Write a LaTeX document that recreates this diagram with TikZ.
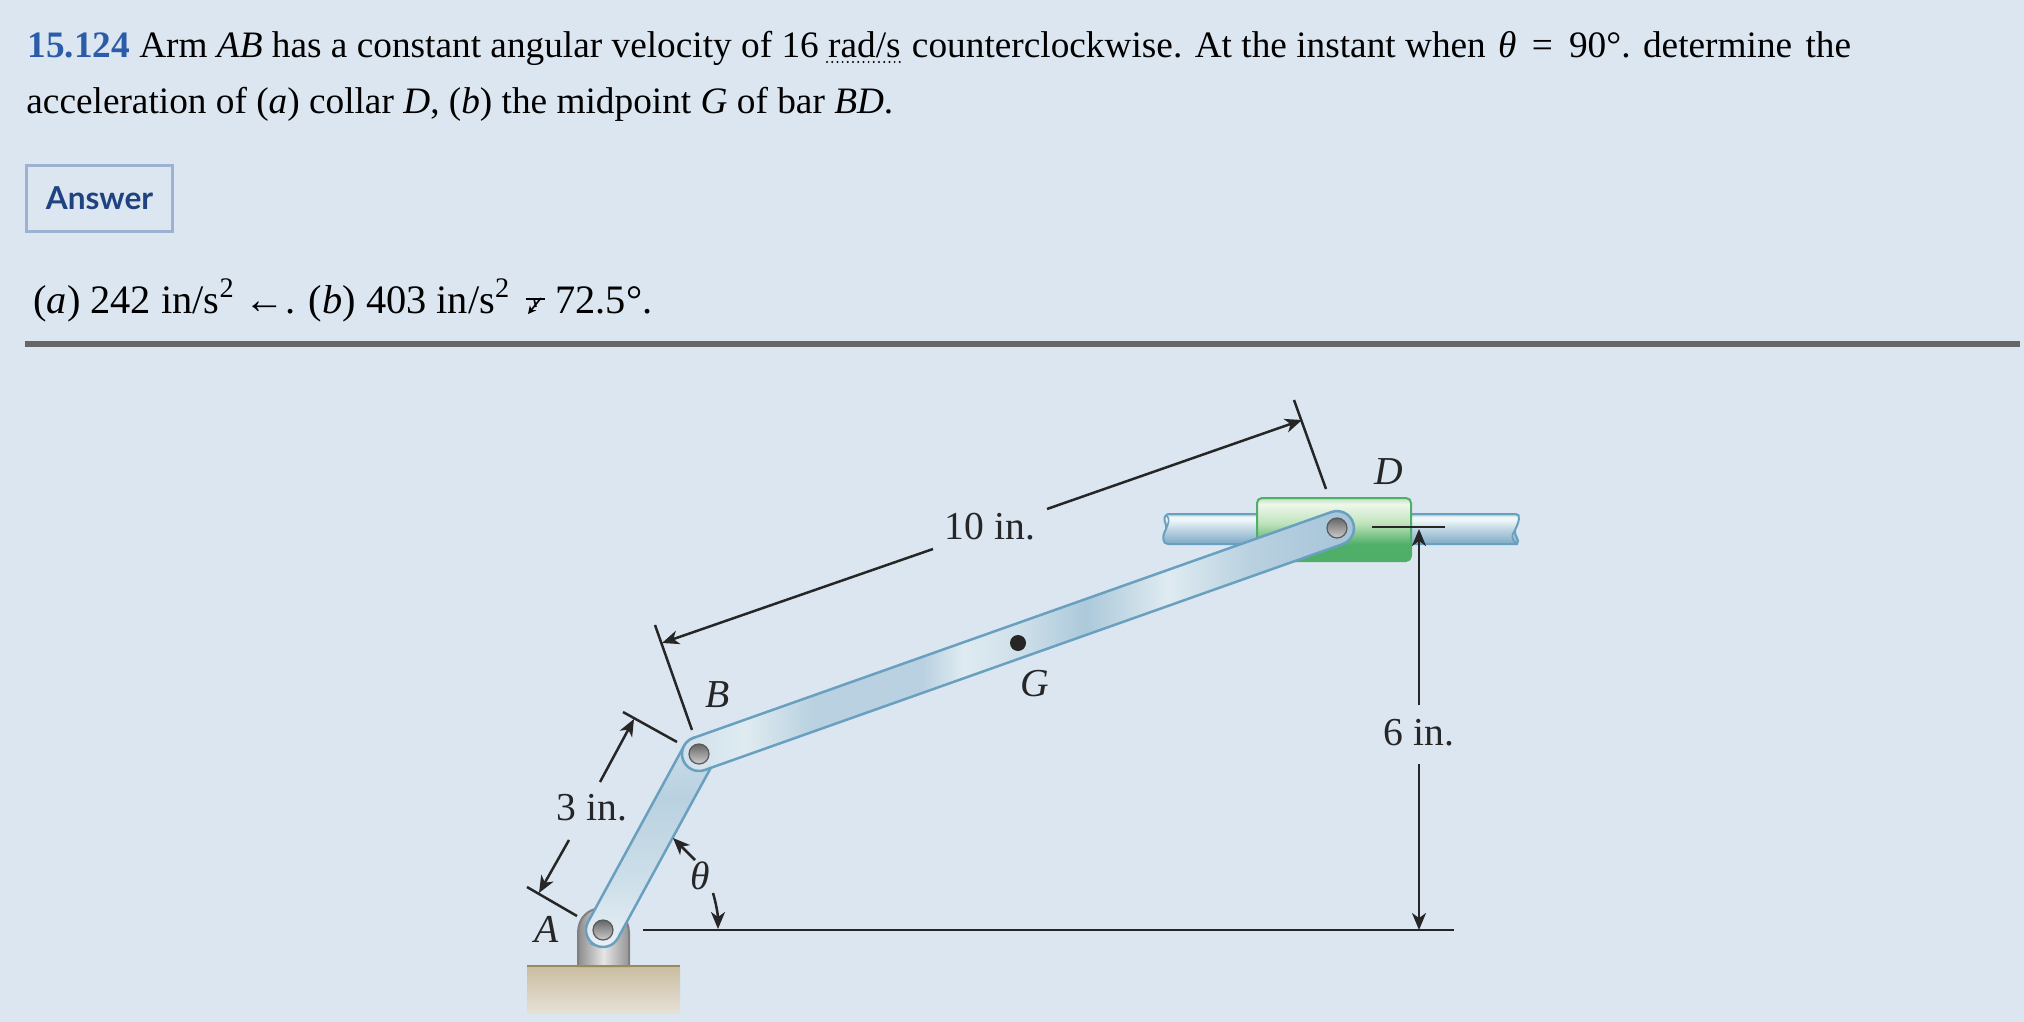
\documentclass[tikz,border=0pt]{standalone}
\usepackage{fontspec}
\setmainfont{Liberation Serif}
\newfontfamily\btnfont{Lato}
\usetikzlibrary{arrows.meta, positioning}

\definecolor{pagebg}{HTML}{DCE6F1}
\definecolor{ink}{HTML}{262626}
\definecolor{numblue}{HTML}{2A5CAA}
\definecolor{btnblue}{HTML}{1F4380}
\definecolor{btnedge}{HTML}{9DB2D2}
\definecolor{rulegray}{HTML}{666666}
\definecolor{baredge}{HTML}{6AA0BF}
\definecolor{bara}{HTML}{CFE0EA}
\definecolor{barb}{HTML}{DFEBF1}
\definecolor{barc}{HTML}{B9D1E0}
\definecolor{bard}{HTML}{ACC9DA}
\definecolor{bare}{HTML}{A5C3D9}
\definecolor{barf}{HTML}{EAF2F6}
\definecolor{rodtop}{HTML}{A9C8DA}
\definecolor{rodlight}{HTML}{EEF6F8}
\definecolor{rodmid}{HTML}{C0D7E3}
\definecolor{rodlow}{HTML}{7FAAC6}
\definecolor{colledge}{HTML}{4FAE68}
\definecolor{collight}{HTML}{EFF7EC}
\definecolor{colmid}{HTML}{BFE3BC}
\definecolor{groundtop}{HTML}{C9BDA0}
\definecolor{groundlow}{HTML}{E6E1D6}
\definecolor{groundedge}{HTML}{9A8B5C}

\pgfdeclarehorizontalshading{barbd}{100bp}{
  color(0bp)=(bara); color(25bp)=(bara); color(30bp)=(barb); color(35bp)=(barc);
  color(43bp)=(barc); color(46bp)=(barb); color(50bp)=(bara); color(55bp)=(bard);
  color(61bp)=(barb); color(67bp)=(barc); color(75bp)=(bare); color(100bp)=(bare)}
\pgfdeclareverticalshading{barab}{100bp}{
  color(0bp)=(barf); color(25bp)=(barf); color(40bp)=(bara); color(60bp)=(barc);
  color(75bp)=(bara); color(100bp)=(bara)}
\pgfdeclareverticalshading{rodshade}{100bp}{
  color(0bp)=(rodlow); color(25bp)=(rodlow); color(50bp)=(rodmid); color(65bp)=(rodlight);
  color(70bp)=(rodlight); color(75bp)=(rodtop); color(100bp)=(rodtop)}
\pgfdeclareverticalshading{collshade}{100bp}{
  color(0bp)=(colledge); color(25bp)=(colledge); color(38bp)=(colledge); color(55bp)=(colmid);
  color(70bp)=(collight); color(75bp)=(colmid); color(100bp)=(colmid)}

\tikzset{
  body/.style={anchor=base west, inner sep=0pt, text=black, font=\fontsize{18.65}{22}\selectfont},
  ans/.style={anchor=base west, inner sep=0pt, text=black, font=\fontsize{20.2}{24}\selectfont},
  dimtext/.style={inner sep=0pt, text=ink, font=\fontsize{19.8}{22}\selectfont},
  dimline/.style={draw=ink, line width=1.25pt},
  dimarrow/.style={dimline, -{Stealth[length=8.5pt, width=7pt, inset=2.5pt]}},
  barshape/.style={draw=baredge, line width=1.25pt, rounded corners=8.5pt},
  pinshape/.style={circle, minimum size=10pt, inner sep=0pt, draw=black!65, line width=.6pt,
    top color=black!60, bottom color=black!20}
}

\begin{document}
\begin{tikzpicture}[x=.5pt, y=-.5pt]
  \fill[pagebg] (0,0) rectangle (2024,1022);
  \useasboundingbox (0,0) rectangle (2024,1022);

  % Text
  \node[body] (prob1) at (27,58) {\textcolor{numblue}{\textbf{15.124}} Arm \textit{AB} has a constant angular velocity of 16 rad/s\kern1pt\ counterclockwise. At the instant when\kern1.5pt\ \textit{θ}\kern3pt\ =\kern3.5pt\ 90°. determine\kern2pt\ the};
  \node[body] (prob2) at (26,113) {acceleration of (\textit{a}) collar \textit{D}, (\textit{b}) the midpoint \textit{G} of bar \textit{BD}.};
  \draw[line width=1.1pt, line cap=round, dash pattern=on 0pt off 2.6pt] (827,62) -- (903,62);
  \node[draw=btnedge, line width=1.8pt, minimum width=73pt, minimum height=33pt, inner sep=0pt,
    text=btnblue, font=\btnfont\bfseries\fontsize{15.8}{18}\selectfont] (answer) at (99.5,198.5) {Answer};
  \node[ans] (result) at (33,313) {(\textit{a}) 242 in/s\textsuperscript{2} ←. (\textit{b}) 403 in/s\textsuperscript{2}};
  \node[ans] (angle) at (555,313) {72.5°.};
  \coordinate (ga) at (526,299);
  \coordinate (gb) at (545,299);
  \coordinate (gc) at (541,298);
  \coordinate (gd) at (528,314);
  \draw[line width=.8pt] (ga) -- (gb);
  \draw[line width=.8pt, -{Stealth[length=4pt, width=4pt]}] (gc) -- (gd);
  \draw[line width=.8pt] (534,299) -- (536,307);
  \fill[rulegray] (25,341) rectangle (2020,347);

  % Ground and support
  \shade[top color=groundtop, bottom color=groundlow] (527,966) rectangle (680,1013);
  \draw[draw=black!50, line width=1pt, left color=black!45, right color=black!42, middle color=black!10]
    (578,966) -- (578,933) .. controls (578,918) and (588,908) .. (603,908)
    .. controls (618,908) and (629,918) .. (629,933) -- (629,966) -- cycle;
  \draw[groundedge, line width=1pt] (527,966) -- (680,966);

  % Rod and collar
  \draw[draw=baredge, line width=1pt, shading=rodshade]
    (1168,514) -- (1516,514) .. controls (1521,514) and (1519,522) .. (1515,530)
    .. controls (1513,535) and (1521,540) .. (1517,544) -- (1168,544)
    .. controls (1162,544) and (1162,536) .. (1166,529)
    .. controls (1168,524) and (1160,518) .. (1168,514) -- cycle;
  \draw[baredge, line width=.8pt] (1166,515) .. controls (1171,519) and (1168,524) .. (1166,529);
  \draw[baredge, line width=.8pt] (1515,530) .. controls (1511,535) and (1511,540) .. (1517,544);
  \draw[draw=colledge, line width=1pt, rounded corners=2.5pt, shading=collshade] (1257,498) rectangle (1411,561);

  % Bars
  \coordinate (a) at (603,930);
  \coordinate (b) at (699,754);
  \coordinate (d) at (1337,528);
  \begin{scope}[shift={(a)}, rotate=61.4]
    \draw[barshape, shading=barab] (-17,-17) rectangle (217.5,17);
  \end{scope}
  \begin{scope}[shift={(b)}, rotate=19.5]
    \draw[barshape, shading=barbd] (-17,-17) rectangle (693.8,17);
  \end{scope}

  % Nodes
  \node[pinshape] (pina) at (a) {};
  \node[pinshape] (pinb) at (b) {};
  \node[pinshape] (pind) at (d) {};
  \node[circle, fill=ink, minimum size=8pt, inner sep=0pt] (g) at (1018,643) {};
  \node[dimtext] (la) at (547,929) {\textit{A}};
  \node[dimtext] (lb) at (718,695) {\textit{B}};
  \node[dimtext] (ld) at (1389,472) {\textit{D}};
  \node[dimtext] (lg) at (1035,684) {\textit{G}};
  \node[dimtext] (lab) at (592,808) {3 in.};
  \node[dimtext] (lbd) at (990,527) {10 in.};
  \node[dimtext] (lh) at (1419,733) {6 in.};
  \node[dimtext] (lt) at (700,876) {\textit{θ}};

  % Edges
  \coordinate (e1) at (623,712);   \coordinate (e2) at (677,742);
  \coordinate (e3) at (527,887);   \coordinate (e4) at (577,916);
  \coordinate (e5) at (655,625);   \coordinate (e6) at (692,730);
  \coordinate (e7) at (1294,400);  \coordinate (e8) at (1326,489);
  \coordinate (e9) at (1372,527);  \coordinate (e10) at (1445,527);
  \coordinate (e11) at (643,930);  \coordinate (e12) at (1454,930);
  \path[every edge/.append style={dimline}]
                 (e1) edge (e2)
                 (e3) edge (e4)
                 (e5) edge (e6)
                 (e7) edge (e8)
                 (e9) edge (e10)
                 (e11) edge (e12);
  \coordinate (s1) at (600,782);   \coordinate (t1) at (634,719);
  \coordinate (s2) at (569,840);   \coordinate (t2) at (539,893);
  \coordinate (s3) at (933,549);   \coordinate (t3) at (662,643);
  \coordinate (s4) at (1047,509);  \coordinate (t4) at (1302,420);
  \coordinate (s5) at (1419,705);  \coordinate (t5) at (1419,529);
  \coordinate (s6) at (1419,764);  \coordinate (t6) at (1419,930);
  \coordinate (s7) at (695,860);   \coordinate (t7) at (673,838);
  \coordinate (s8) at (713,893);   \coordinate (t8) at (718,929);
  \path[every edge/.append style={dimarrow}]
                  (s1) edge (t1)
                  (s2) edge (t2)
                  (s3) edge (t3)
                  (s4) edge (t4)
                  (s5) edge (t5)
                  (s6) edge (t6)
                  (s7) edge (t7);
  \draw[dimarrow] (s8) .. controls (716,903) and (718,915) .. (t8);
\end{tikzpicture}
\end{document}
